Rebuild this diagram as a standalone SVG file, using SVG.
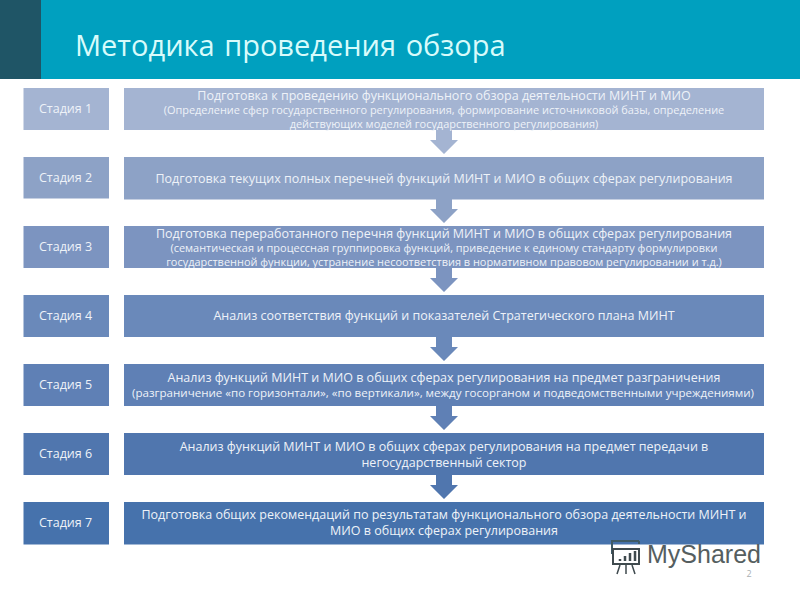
<svg xmlns="http://www.w3.org/2000/svg" width="800" height="600" viewBox="0 0 800 600">
<defs><style>
text{font-family:"Open Sans","Noto Sans","DejaVu Sans",sans-serif;fill:#eef2f8;text-anchor:middle}
.s{font-size:12.5px}
.m{font-size:12.5px}
.d{font-size:10.95px}
.w{font-size:11.55px}
</style>
<path id="arrow" d="M436 0h16v10h6l-14 14-14-14h6z"/>
</defs>
<rect width="800" height="600" fill="#fff"/>
<rect width="800" height="79" fill="#00a0bf"/>
<rect width="41" height="79" fill="#1f5566"/>
<text x="75" y="56" style="font-size:29px;text-anchor:start;fill:#d8fbfb;word-spacing:2px">Методика проведения обзора</text>
<g id="connectors">
<use href="#arrow" y="130" fill="#a4b4d2"/>
<use href="#arrow" y="199" fill="#8da2c6"/>
<use href="#arrow" y="268" fill="#7c94c0"/>
<use href="#arrow" y="337" fill="#6a89ba"/>
<use href="#arrow" y="406" fill="#5f80b5"/>
<use href="#arrow" y="475" fill="#5076ae"/>
</g>
<g id="stage1"><rect x="23.500" y="88" width="85.500" height="42" fill="#a4b4d2"/><text class="s" x="65.500" y="113">Стадия 1</text></g>
<g id="step1"><rect x="124" y="88" width="640" height="42" fill="#a4b4d2"/><text class="m" x="444" y="99.500">Подготовка к проведению функционального обзора деятельности МИНТ и МИО</text><text class="d" x="444" y="113.500">(Определение сфер государственного регулирования, формирование источниковой базы, определение</text><text class="d" x="444" y="127.500">действующих моделей государственного регулирования)</text></g>
<g id="stage2"><rect x="23.500" y="157" width="85.500" height="41.500" fill="#8da2c6"/><text class="s" x="65.500" y="182">Стадия 2</text></g>
<g id="step2"><rect x="124" y="157" width="640" height="42.500" fill="#8da2c6"/><text class="m" x="444" y="182.500">Подготовка текущих полных перечней функций МИНТ и МИО в общих сферах регулирования</text></g>
<g id="stage3"><rect x="23.500" y="226" width="85.500" height="42" fill="#7c94c0"/><text class="s" x="65.500" y="251">Стадия 3</text></g>
<g id="step3"><rect x="124" y="226" width="640" height="42" fill="#7c94c0"/><text class="m" x="444" y="237.500">Подготовка переработанного перечня функций МИНТ и МИО в общих сферах регулирования</text><text class="d" x="444" y="251.500">(семантическая и процессная группировка функций, приведение к единому стандарту формулировки</text><text class="d" x="444" y="266">государственной функции, устранение несоответствия в нормативном правовом регулировании и т.д.)</text></g>
<g id="stage4"><rect x="23.500" y="295" width="85.500" height="42" fill="#6a89ba"/><text class="s" x="65.500" y="320">Стадия 4</text></g>
<g id="step4"><rect x="124" y="295" width="640" height="42" fill="#6a89ba"/><text class="m" x="444" y="320">Анализ соответствия функций и показателей Стратегического плана МИНТ</text></g>
<g id="stage5"><rect x="23.500" y="364" width="85.500" height="42" fill="#5f80b5"/><text class="s" x="65.500" y="389">Стадия 5</text></g>
<g id="step5"><rect x="124" y="364" width="640" height="42" fill="#5f80b5"/><text class="m" x="444" y="381.500">Анализ функций МИНТ и МИО в общих сферах регулирования на предмет разграничения</text><text class="w" x="443" y="397">(разграничение «по горизонтали», «по вертикали», между госорганом и подведомственными учреждениями)</text></g>
<g id="stage6"><rect x="23.500" y="433" width="85.500" height="42" fill="#5076ae"/><text class="s" x="65.500" y="458">Стадия 6</text></g>
<g id="step6"><rect x="124" y="433" width="640" height="42" fill="#5076ae"/><text class="m" x="444" y="450.500">Анализ функций МИНТ и МИО в общих сферах регулирования на предмет передачи в</text><text class="m" x="444" y="467">негосударственный сектор</text></g>
<g id="stage7"><rect x="23.500" y="502" width="85.500" height="42.500" fill="#4672ac"/><text class="s" x="65.500" y="527">Стадия 7</text></g>
<g id="step7"><rect x="124" y="502" width="640" height="42.500" fill="#4672ac"/><text class="m" x="444" y="519">Подготовка общих рекомендаций по результатам функционального обзора деятельности МИНТ и</text><text class="m" x="444" y="535">МИО в общих сферах регулирования</text></g>
<g id="watermark">
<path d="M611 541h28M612 541v13M639 541v3" stroke="#3d5a66" stroke-width="2" fill="none"/>
<path d="M613 549h26v15h-26z" fill="#fff" stroke="#3f4a4e" stroke-width="2"/>
<path d="M620 561v-2M625 561v-5M630 561v-8M635 561v-10" stroke="#3f4a4e" stroke-width="2.500" fill="none"/>
<path d="M620 565l-3 9M632 565l3 9M626 565v9" stroke="#3f4a4e" stroke-width="1.500" fill="none"/>
<text x="647" y="563" style="font-size:25px;text-anchor:start;fill:#555e60;font-family:'Liberation Sans',sans-serif">MyShared</text>
</g>
<text x="749" y="577" style="font-size:9px;fill:#a9b0b3">2</text>
</svg>
